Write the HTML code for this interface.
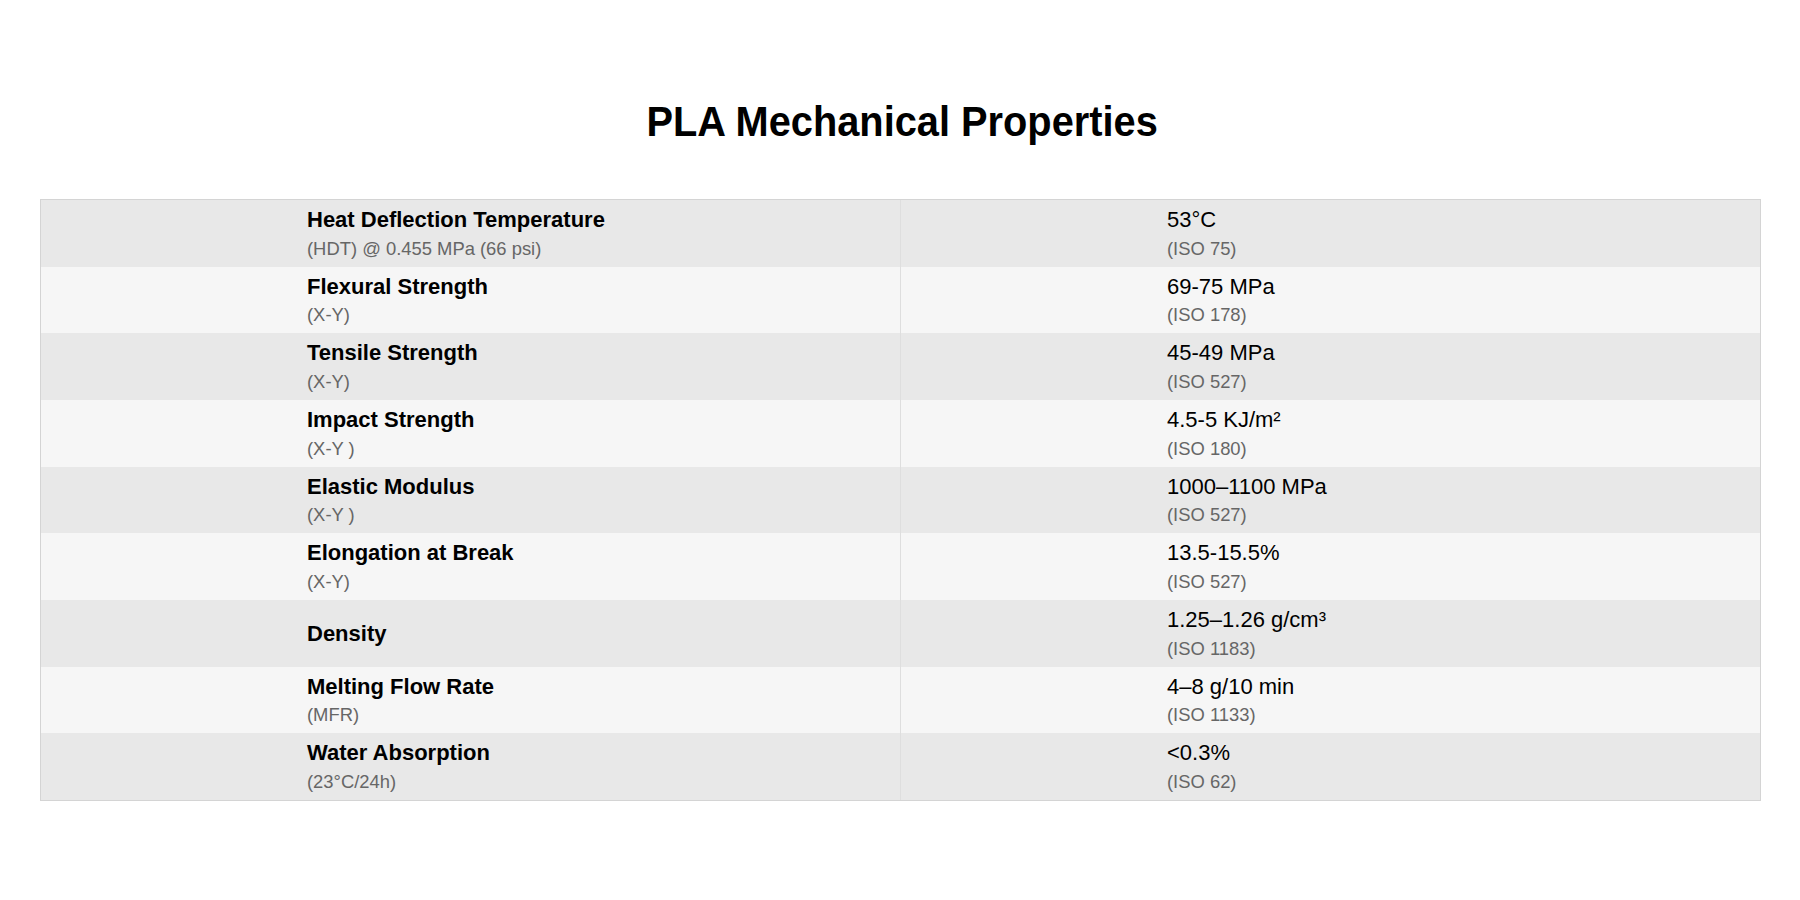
<!DOCTYPE html>
<html>
<head>
<meta charset="utf-8">
<style>
html,body{margin:0;padding:0;background:#fff;}
body{width:1800px;height:900px;position:relative;overflow:hidden;font-family:"Liberation Sans",sans-serif;color:#000;}
h1{position:absolute;left:1.5px;width:1800px;margin:0;text-align:center;font-size:43px;font-weight:bold;line-height:48px;top:97px;transform:scaleX(0.925);transform-origin:901.5px 0;}
.tbl{position:absolute;left:40px;top:199px;width:1719px;height:600px;border:1px solid #d4d4d4;background:#f6f6f6;}
.row{position:absolute;left:0;width:1719px;height:66.667px;}
.row.d{background:#e8e8e8;}
.div{position:absolute;left:859px;top:0;width:1px;height:600px;background:#dedede;}
.c{position:absolute;top:0;height:66.667px;}
.c1{left:266px;}
.c2{left:1126px;}
.t{position:absolute;left:0;white-space:nowrap;font-size:22px;line-height:26px;}
.l{font-weight:bold;}
.s{font-size:18.4px;color:#666;line-height:22px;}
</style>
</head>
<body>
<h1>PLA Mechanical Properties</h1>
<div class="tbl">
  <div class="row d" style="top:0px">
    <div class="c c1"><div class="t l" style="top:7px">Heat Deflection Temperature</div><div class="t s" style="top:37.5px">(HDT) @ 0.455 MPa (66 psi)</div></div>
    <div class="c c2"><div class="t v" style="top:7px">53°C</div><div class="t s" style="top:37.5px">(ISO 75)</div></div>
  </div>
  <div class="row" style="top:66.667px">
    <div class="c c1"><div class="t l" style="top:7px">Flexural Strength</div><div class="t s" style="top:37.5px">(X-Y)</div></div>
    <div class="c c2"><div class="t v" style="top:7px">69-75 MPa</div><div class="t s" style="top:37.5px">(ISO 178)</div></div>
  </div>
  <div class="row d" style="top:133.333px">
    <div class="c c1"><div class="t l" style="top:7px">Tensile Strength</div><div class="t s" style="top:37.5px">(X-Y)</div></div>
    <div class="c c2"><div class="t v" style="top:7px">45-49 MPa</div><div class="t s" style="top:37.5px">(ISO 527)</div></div>
  </div>
  <div class="row" style="top:200px">
    <div class="c c1"><div class="t l" style="top:7px">Impact Strength</div><div class="t s" style="top:37.5px">(X-Y )</div></div>
    <div class="c c2"><div class="t v" style="top:7px">4.5-5 KJ/m²</div><div class="t s" style="top:37.5px">(ISO 180)</div></div>
  </div>
  <div class="row d" style="top:266.667px">
    <div class="c c1"><div class="t l" style="top:7px">Elastic Modulus</div><div class="t s" style="top:37.5px">(X-Y )</div></div>
    <div class="c c2"><div class="t v" style="top:7px">1000–1100 MPa</div><div class="t s" style="top:37.5px">(ISO 527)</div></div>
  </div>
  <div class="row" style="top:333.333px">
    <div class="c c1"><div class="t l" style="top:7px">Elongation at Break</div><div class="t s" style="top:37.5px">(X-Y)</div></div>
    <div class="c c2"><div class="t v" style="top:7px">13.5-15.5%</div><div class="t s" style="top:37.5px">(ISO 527)</div></div>
  </div>
  <div class="row d" style="top:400px">
    <div class="c c1"><div class="t l" style="top:21px">Density</div></div>
    <div class="c c2"><div class="t v" style="top:7px">1.25–1.26 g/cm³</div><div class="t s" style="top:37.5px">(ISO 1183)</div></div>
  </div>
  <div class="row" style="top:466.667px">
    <div class="c c1"><div class="t l" style="top:7px">Melting Flow Rate</div><div class="t s" style="top:37.5px">(MFR)</div></div>
    <div class="c c2"><div class="t v" style="top:7px">4–8 g/10 min</div><div class="t s" style="top:37.5px">(ISO 1133)</div></div>
  </div>
  <div class="row d" style="top:533.333px">
    <div class="c c1"><div class="t l" style="top:7px">Water Absorption</div><div class="t s" style="top:37.5px">(23°C/24h)</div></div>
    <div class="c c2"><div class="t v" style="top:7px">&lt;0.3%</div><div class="t s" style="top:37.5px">(ISO 62)</div></div>
  </div>
  <div class="div"></div>
</div>
</body>
</html>
